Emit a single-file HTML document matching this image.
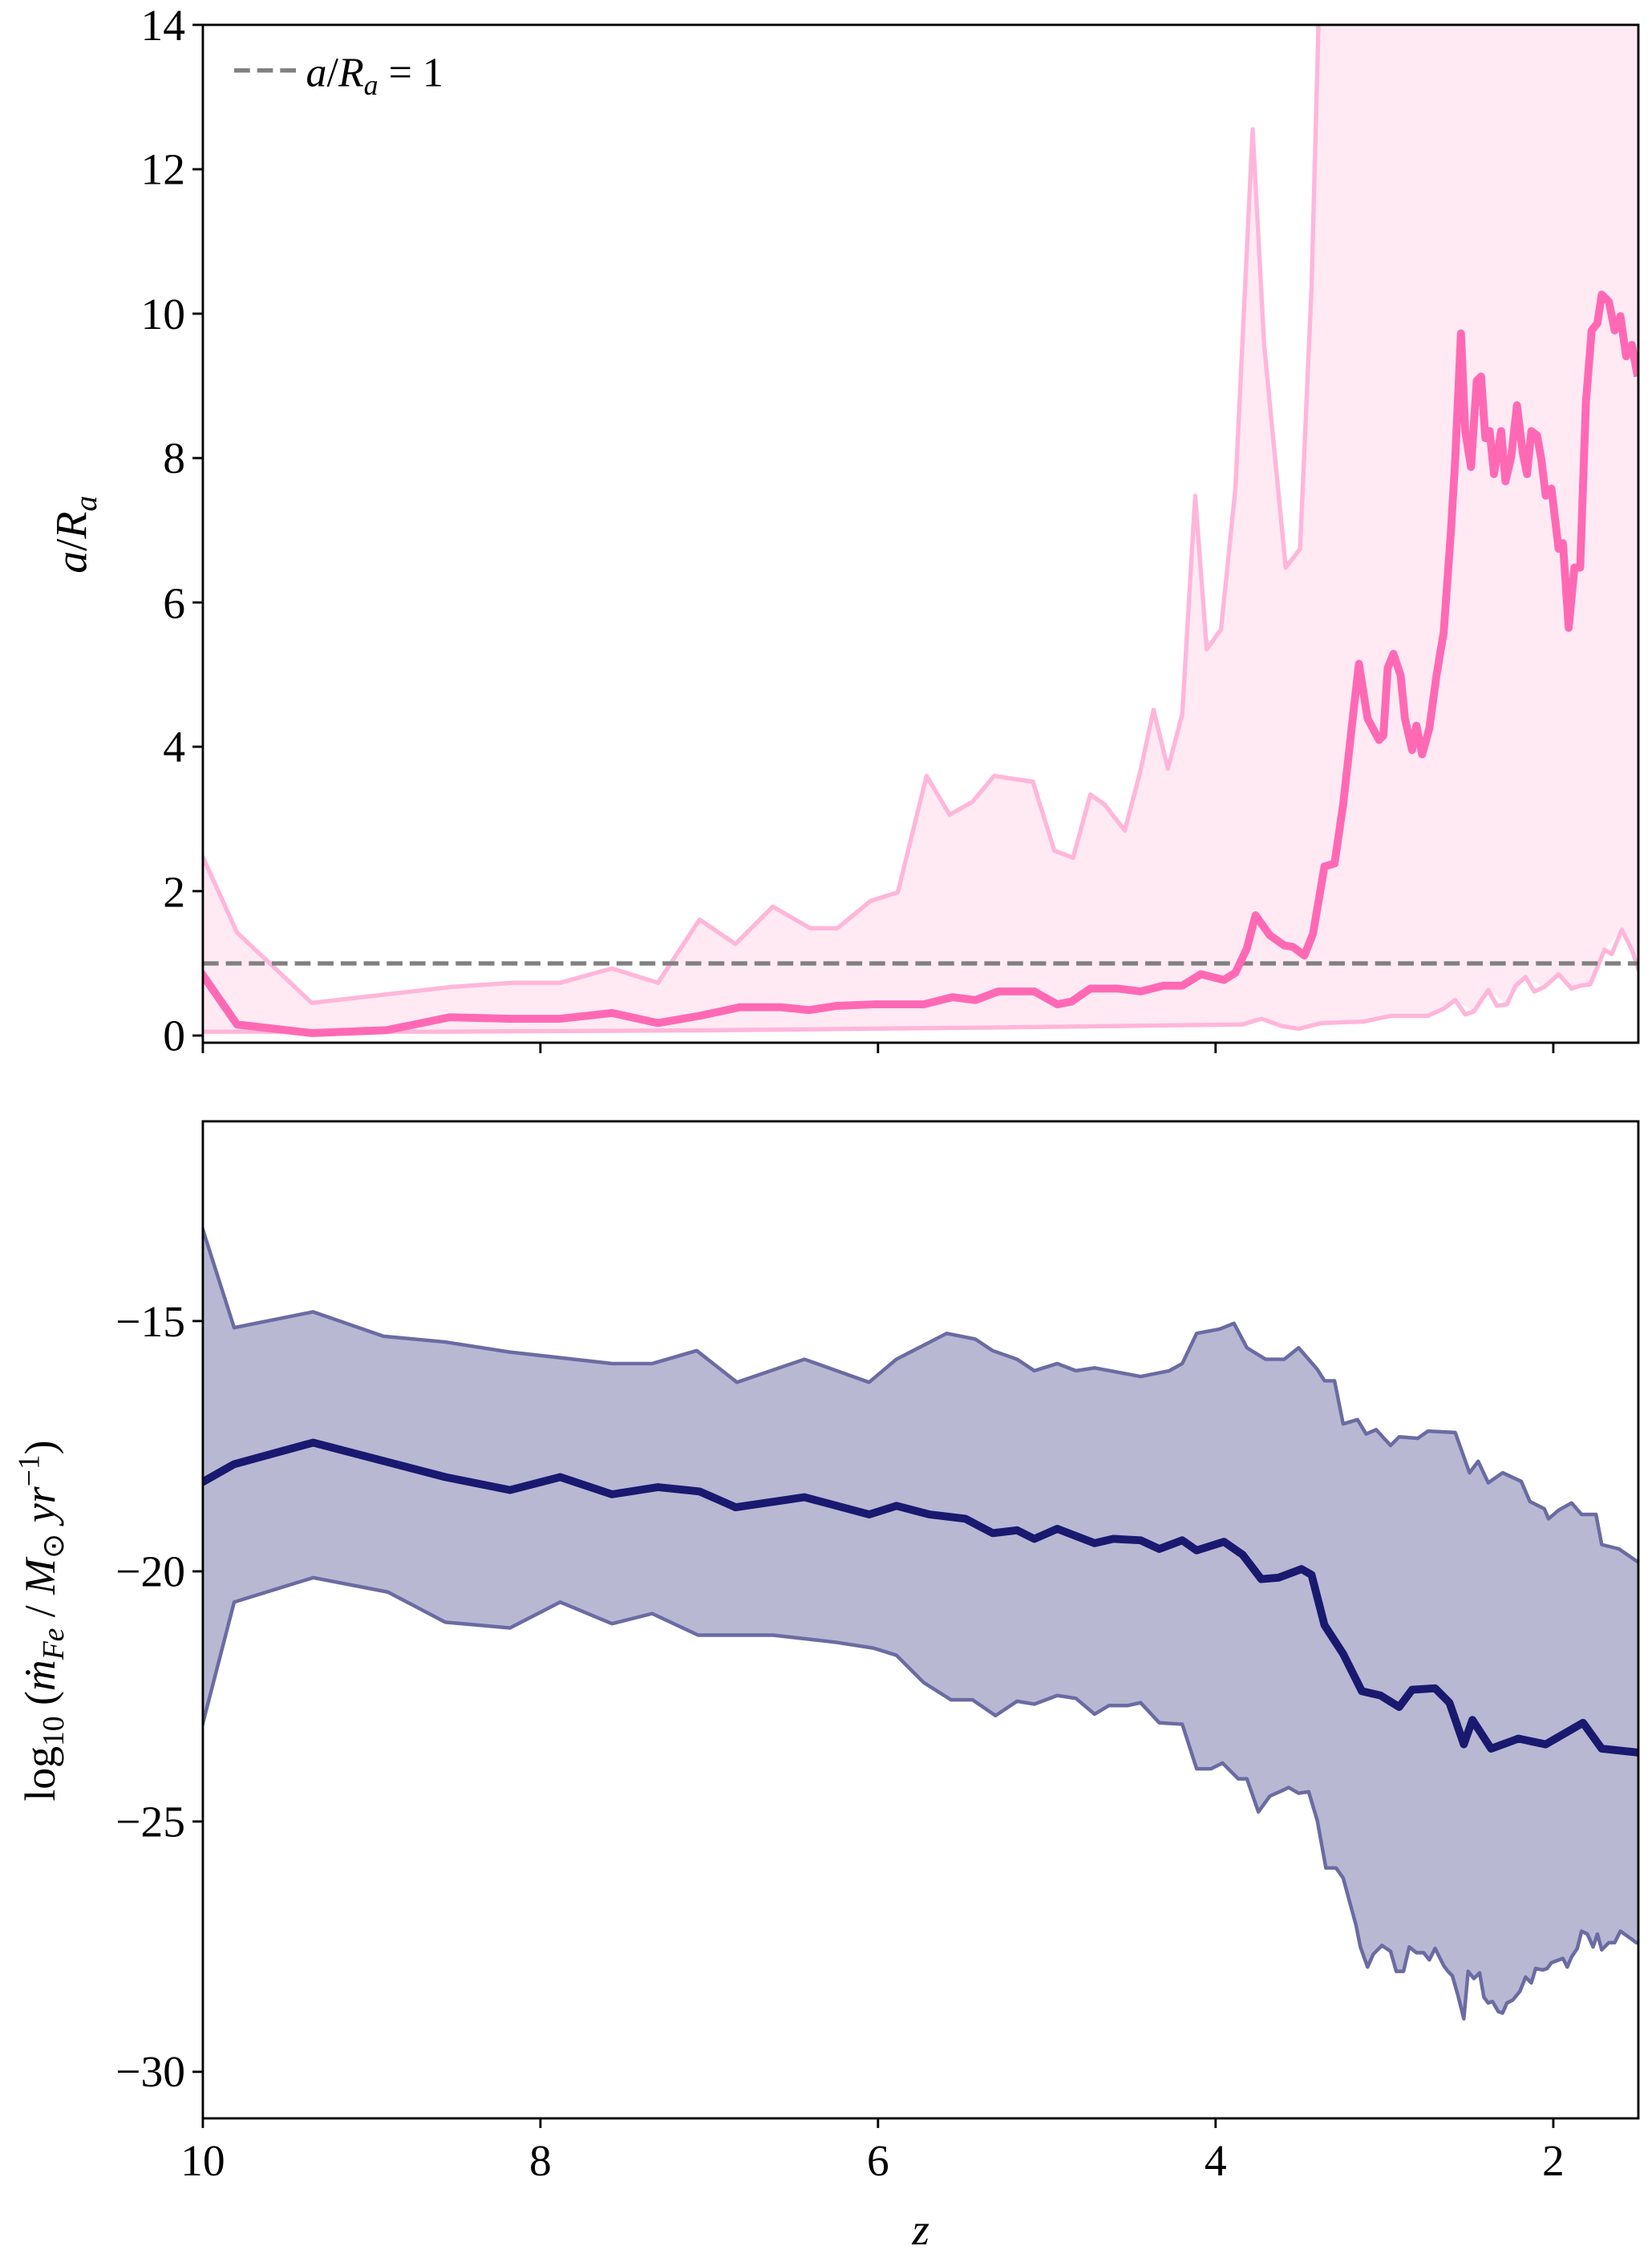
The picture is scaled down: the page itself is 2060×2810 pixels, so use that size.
<!DOCTYPE html>
<html><head><meta charset="utf-8"><style>
html,body{margin:0;padding:0;background:#fff;}
svg{display:block;}
text{font-family:"Liberation Serif","Times New Roman",serif;fill:#000;}
</style></head><body>
<svg width="2060" height="2810" viewBox="0 0 1150 1568.7" xmlns="http://www.w3.org/2000/svg">
<defs>
<clipPath id="c1"><rect x="141.2" y="17.3" width="999.3" height="708.4"/></clipPath>
<clipPath id="c2"><rect x="141.2" y="780.4" width="999.3" height="693.9"/></clipPath>
</defs>
<!-- TOP PANEL -->
<g clip-path="url(#c1)">
<polygon fill="#FFEAF4" points="141,596 165,649 217,698 313,687 357,684 390,684 426,674 458,684 487,640 512,657 538,631 564,646 583,646 606,627 625,621 645,540 661,567 677,558 692,540 705,542 719,544 734,592 747,597 759,553 769,560 783,578 794,536 803,494 813,535 823,497 832,345 840,452 850,438 860,340 872,90 880,240 895,395 905,382 913,200 918,10 1141,10 1141,676 1136,661 1129,647 1117,661 1107,685 1094,688 1085,678 1075,687 1062,680 1049,699 1036,689 1026,704 1013,696 994,707 968,707 949,711 920,712 904,716 878,709 865,713 700,715 500,717 300,718 141,718"/>
<polyline fill="none" stroke="#FFB6D9" stroke-width="3" stroke-linejoin="round" points="141,596 165,649 217,698 313,687 357,684 390,684 426,674 458,684 487,640 512,657 538,631 564,646 583,646 606,627 625,621 645,540 661,567 677,558 692,540 705,542 719,544 734,592 747,597 759,553 769,560 783,578 794,536 803,494 813,535 823,497 832,345 840,452 850,438 860,340 872,90 880,240 895,395 905,382 913,200 918,10"/>
<polyline fill="none" stroke="#FFB6D9" stroke-width="3" stroke-linejoin="round" points="141,718 300,718 500,717 700,715 865,713 878,709 892,714 904,716 920,712 949,711 968,707 994,707 1005,702 1013,696 1020,706 1026,704 1036,689 1042,700 1049,699 1055,686 1062,680 1068,690 1075,687 1085,678 1094,688 1100,686 1107,685 1117,661 1122,664 1129,647 1136,661 1141,676"/>
<line x1="141.2" y1="670.5" x2="1140.5" y2="670.5" stroke="#808080" stroke-width="3" stroke-dasharray="11,5"/>
<polyline fill="none" stroke="#FF69B4" stroke-width="5.5" stroke-linejoin="round" points="140,677 165,713 217,719 269,717 313,708 355,709 390,709 426,705 458,712 487,707 515,701 544,701 563,703 583,700 608,699 643,699 663,694 679,696 695,690 720,690 736,699 746,697 759,688 778,688 794,690 810,686 823,686 836,678 852,682 860,677 868,660 874,637 884,651 894,658 900,659 908,665 914,650 922,603 929,601 935,560 942,497 946,462 952,500 960,515 963,512 966,465 970,455 975,470 978,500 983,522 986,505 990,525 995,507 1000,470 1005,440 1010,370 1013,320 1017,232 1020,300 1024,325 1028,265 1031,262 1034,305 1037,300 1040,330 1045,300 1048,335 1052,318 1056,282 1060,315 1063,330 1066,300 1070,303 1073,320 1076,345 1080,340 1085,382 1088,378 1092,437 1096,395 1100,395 1104,280 1108,230 1112,225 1115,205 1120,210 1124,230 1128,220 1132,248 1136,240 1140,262"/>
</g>
<rect x="141.2" y="17.3" width="999.3" height="708.4" fill="none" stroke="#000" stroke-width="1.6"/>
<g stroke="#000" stroke-width="1.6">
<line x1="134" y1="720.7" x2="141" y2="720.7"/><line x1="134" y1="620.2" x2="141" y2="620.2"/><line x1="134" y1="519.7" x2="141" y2="519.7"/><line x1="134" y1="419.3" x2="141" y2="419.3"/><line x1="134" y1="318.8" x2="141" y2="318.8"/><line x1="134" y1="218.3" x2="141" y2="218.3"/><line x1="134" y1="117.8" x2="141" y2="117.8"/><line x1="134" y1="17.3" x2="141" y2="17.3"/>
<line x1="141.2" y1="726" x2="141.2" y2="733"/><line x1="376.2" y1="726" x2="376.2" y2="733"/><line x1="611.2" y1="726" x2="611.2" y2="733"/><line x1="846.2" y1="726" x2="846.2" y2="733"/><line x1="1081.3" y1="726" x2="1081.3" y2="733"/>
</g>
<g font-size="31" text-anchor="end">
<text x="129" y="731">0</text><text x="129" y="631">2</text><text x="129" y="530">4</text><text x="129" y="430">6</text><text x="129" y="329">8</text><text x="129" y="229">10</text><text x="129" y="128">12</text><text x="129" y="28">14</text>
</g>
<line x1="163" y1="49" x2="210" y2="49" stroke="#808080" stroke-width="3" stroke-dasharray="11,5"/>
<text x="213" y="60" font-size="29"><tspan font-style="italic">a</tspan>/<tspan font-style="italic">R</tspan><tspan font-style="italic" font-size="20" dy="6">a</tspan><tspan dy="-6"> = 1</tspan></text>
<text transform="translate(60,372) rotate(-90)" font-size="31" text-anchor="middle"><tspan font-style="italic">a</tspan>/<tspan font-style="italic">R</tspan><tspan font-style="italic" font-size="22" dy="7">a</tspan></text>
<!-- BOTTOM PANEL -->
<g clip-path="url(#c2)">
<polygon fill="#B8B8D3" points="140,852 163,924 218,913 267,930 310,934 355,941 426,949 454,949 485,940 513,962 560,946 605,962 624,946 659,928 679,932 691,940 708,946 720,954 736,949 749,954 762,952 794,958 814,954 823,949 833,928 849,925 859,921 868,938 881,946 894,946 904,938 917,953 922,961 929,961 935,991 945,988 951,998 958,995 968,1006 974,1000 987,1001 994,996 1013,997 1023,1025 1029,1017 1036,1032 1046,1025 1059,1031 1065,1045 1075,1050 1078,1057 1085,1051 1094,1046 1101,1054 1111,1054 1115,1075 1127,1078 1143,1089 1143,1352 1139,1352 1135,1349 1128,1344 1124,1352 1120,1352 1115,1357 1112,1346 1109,1355 1105,1346 1101,1344 1098,1356 1094,1362 1091,1369 1088,1363 1080,1366 1077,1370 1074,1371 1069,1370 1066,1380 1062,1376 1058,1386 1053,1392 1049,1394 1046,1401 1043,1400 1039,1393 1036,1394 1033,1390 1030,1373 1026,1377 1022,1372 1019,1405 1015,1389 1011,1375 1008,1372 1005,1368 999,1356 995,1364 991,1359 986,1359 981,1355 977,1372 972,1372 968,1358 962,1354 956,1360 952,1369 947,1355 944,1340 935,1307 930,1300 923,1300 917,1267 911,1247 904,1248 897,1244 893,1246 884,1250 876,1261 868,1238 862,1238 851,1227 843,1231 833,1231 823,1200 807,1199 794,1185 785,1187 772,1187 762,1193 749,1182 736,1180 720,1186 708,1184 693,1194 677,1183 662,1183 643,1171 624,1152 608,1147 582,1143 538,1138 486,1138 454,1123 426,1130 390,1115 355,1133 310,1129 270,1108 218,1098 163,1115 140,1204"/>
<polyline fill="none" stroke="#6B6BA3" stroke-width="2.5" stroke-linejoin="round" points="140,852 163,924 218,913 267,930 310,934 355,941 426,949 454,949 485,940 513,962 560,946 605,962 624,946 659,928 679,932 691,940 708,946 720,954 736,949 749,954 762,952 794,958 814,954 823,949 833,928 849,925 859,921 868,938 881,946 894,946 904,938 917,953 922,961 929,961 935,991 945,988 951,998 958,995 968,1006 974,1000 987,1001 994,996 1013,997 1023,1025 1029,1017 1036,1032 1046,1025 1059,1031 1065,1045 1075,1050 1078,1057 1085,1051 1094,1046 1101,1054 1111,1054 1115,1075 1127,1078 1143,1089"/>
<polyline fill="none" stroke="#6B6BA3" stroke-width="2.5" stroke-linejoin="round" points="140,1204 163,1115 218,1098 270,1108 310,1129 355,1133 390,1115 426,1130 454,1123 486,1138 538,1138 582,1143 608,1147 624,1152 643,1171 662,1183 677,1183 693,1194 708,1184 720,1186 736,1180 749,1182 762,1193 772,1187 785,1187 794,1185 807,1199 823,1200 833,1231 843,1231 851,1227 862,1238 868,1238 876,1261 884,1250 893,1246 897,1244 904,1248 911,1247 917,1267 923,1300 930,1300 935,1307 944,1340 947,1355 952,1369 956,1360 962,1354 968,1358 972,1372 977,1372 981,1355 986,1359 991,1359 995,1364 999,1356 1005,1368 1008,1372 1011,1375 1015,1389 1019,1405 1022,1372 1026,1377 1030,1373 1033,1390 1036,1394 1039,1393 1043,1400 1046,1401 1049,1394 1053,1392 1058,1386 1062,1376 1066,1380 1069,1370 1074,1371 1077,1370 1080,1366 1088,1363 1091,1369 1094,1362 1098,1356 1101,1344 1105,1346 1109,1355 1112,1346 1115,1357 1120,1352 1124,1352 1128,1344 1135,1349 1139,1352 1143,1352"/>
<polyline fill="none" stroke="#191970" stroke-width="5.5" stroke-linejoin="round" points="140,1032 163,1019 218,1004 310,1028 355,1037 390,1028 426,1040 458,1035 487,1038 512,1049 560,1042 605,1054 624,1048 647,1054 672,1057 691,1067 708,1065 720,1071 736,1064 762,1074 775,1071 794,1072 807,1078 823,1072 833,1079 852,1073 865,1082 878,1099 890,1098 906,1092 913,1096 922,1131 935,1151 948,1177 961,1180 974,1188 983,1176 999,1175 1009,1185 1019,1214 1025,1197 1038,1217 1057,1210 1076,1214 1102,1199 1115,1217 1143,1220"/>
</g>
<rect x="141.2" y="780.4" width="999.3" height="693.9" fill="none" stroke="#000" stroke-width="1.6"/>
<g stroke="#000" stroke-width="1.6">
<line x1="134" y1="919.4" x2="141" y2="919.4"/><line x1="134" y1="1093.6" x2="141" y2="1093.6"/><line x1="134" y1="1267.7" x2="141" y2="1267.7"/><line x1="134" y1="1441.9" x2="141" y2="1441.9"/>
<line x1="141.2" y1="1474" x2="141.2" y2="1481"/><line x1="376.2" y1="1474" x2="376.2" y2="1481"/><line x1="611.2" y1="1474" x2="611.2" y2="1481"/><line x1="846.2" y1="1474" x2="846.2" y2="1481"/><line x1="1081.3" y1="1474" x2="1081.3" y2="1481"/>
</g>
<g font-size="31" text-anchor="end">
<text x="129" y="930">−15</text><text x="129" y="1104">−20</text><text x="129" y="1278">−25</text><text x="129" y="1452">−30</text>
</g>
<g font-size="31" text-anchor="middle">
<text x="141.2" y="1514">10</text><text x="376.2" y="1514">8</text><text x="611.2" y="1514">6</text><text x="846.2" y="1514">4</text><text x="1081.3" y="1514">2</text>
</g>
<text x="641" y="1562" font-size="31" font-style="italic" text-anchor="middle">z</text>
<text transform="translate(38,1128) rotate(-90)" font-size="30" text-anchor="middle">log<tspan font-size="21" dy="6">10</tspan><tspan dy="-6"> (</tspan><tspan font-style="italic">ṁ</tspan><tspan font-style="italic" font-size="21" dy="6">Fe</tspan><tspan dy="-6"> / </tspan><tspan font-style="italic">M</tspan><tspan font-size="21" dy="6">⊙</tspan><tspan dy="-6" font-style="italic"> yr</tspan><tspan font-size="21" dy="-11">−1</tspan><tspan dy="11">)</tspan></text>
</svg>
</body></html>
